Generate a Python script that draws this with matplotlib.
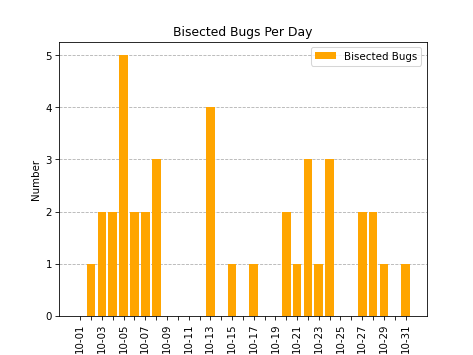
import numpy as np
import matplotlib
matplotlib.use('Agg')
import matplotlib.pyplot as plt

days = [f'10-{d:02d}' for d in range(1, 32)]
bugs = [0, 1, 2, 2, 5, 2, 2, 3, 0, 0, 0, 0, 4, 0, 1, 0, 1, 0, 0, 2,
        1, 3, 1, 3, 0, 0, 2, 2, 1, 0, 1]

fig, ax = plt.subplots(figsize=(6.4, 4.8), dpi=74.06)

x = np.arange(len(days))
ax.bar(x, bugs, width=0.8, color='orange', label='Bisected Bugs')

ax.set_xticks(x)
ax.set_xticklabels([d if i % 2 == 0 else '' for i, d in enumerate(days)], rotation=90)
ax.set_yticks(range(0, 6))
ax.grid(axis='y', linestyle='--', color='#b0b0b0')
ax.set_axisbelow(True)

ax.set_title('Bisected Bugs Per Day')
ax.set_ylabel('Number')
ax.legend(loc='upper right')

plt.savefig('out.png')
